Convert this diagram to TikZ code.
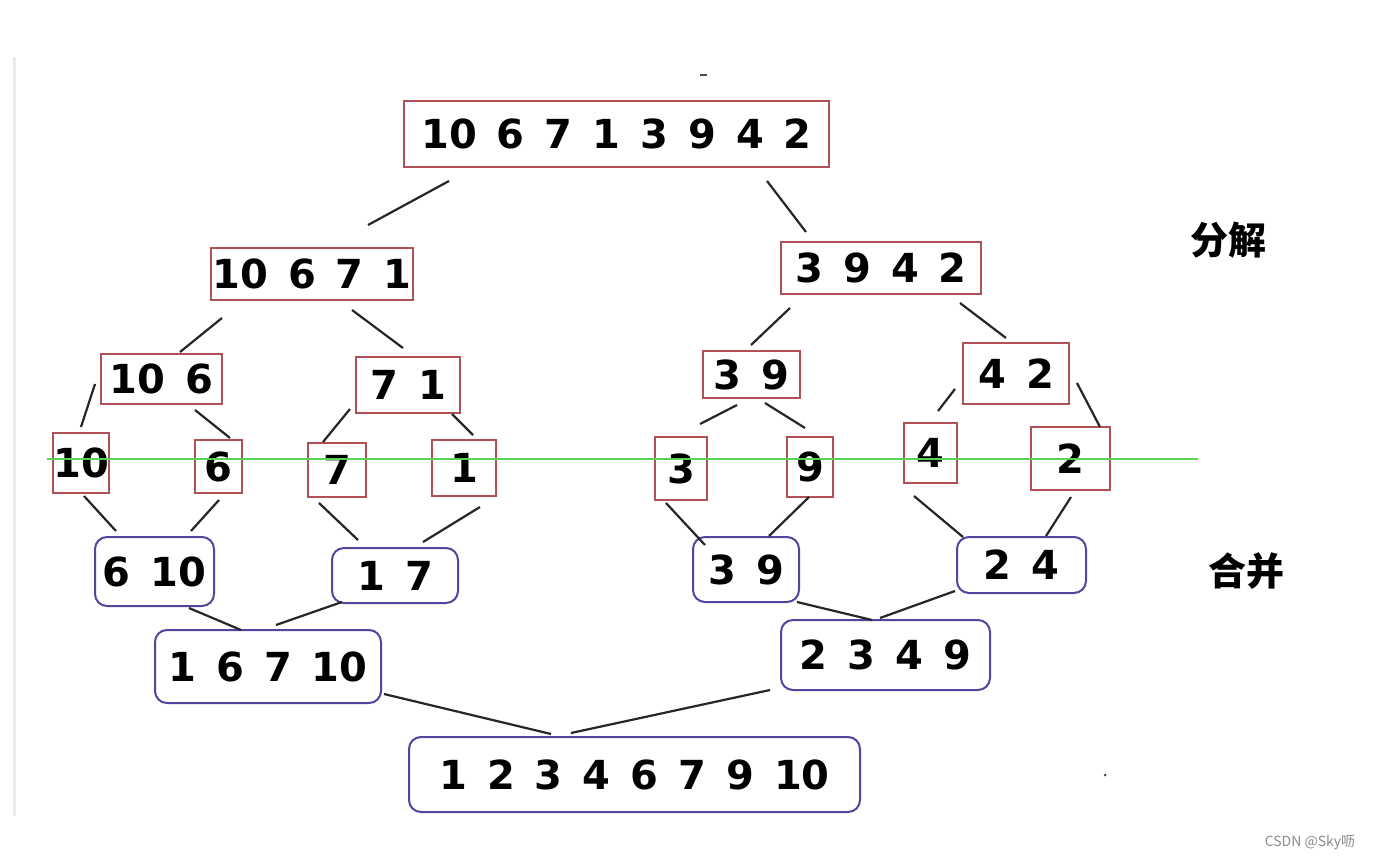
\documentclass[tikz,border=0pt]{standalone}
\usepackage{fontspec}
\setmainfont{DejaVu Sans}
\newfontfamily\cjk{Noto Sans CJK SC}
\definecolor{boxred}{RGB}{178,80,88}
\definecolor{boxblue}{RGB}{80,70,160}
\definecolor{gline}{RGB}{90,210,90}
\newcommand\gp{\hspace{20pt}}
\begin{document}
\begin{tikzpicture}[x=1pt,y=-1pt,
  lbl/.style={font=\fontsize{40}{48}\selectfont\bfseries, inner sep=0pt, text=black},
  rbox/.style={lbl, draw=boxred, line width=2pt},
  bbox/.style={lbl, draw=boxblue, line width=2pt, rounded corners=12pt},
  conn/.style={line width=2.2pt, black!85}]
\useasboundingbox (0,0) rectangle (1374,859);
\fill[white] (0,0) rectangle (1374,859);
\draw[black!8, line width=3pt] (14,57) -- (14,816);
\draw[black!70, line width=1.5pt] (700,75) -- (707,75);
\fill[black!70] (1105,775) circle (1.5pt);

% decomposition boxes
\node[rbox, minimum width=425pt, minimum height=66pt] (top) at (616.5,134) {10\gp 6\gp 7\gp 1\gp 3\gp 9\gp 4\gp 2};
\node[rbox, minimum width=202pt, minimum height=52pt] (la) at (312,274) {10\gp 6\gp 7\gp 1};
\node[rbox, minimum width=200pt, minimum height=52pt] (lb) at (881,268) {3\gp 9\gp 4\gp 2};
\node[rbox, minimum width=121pt, minimum height=50pt] (ka) at (161.5,379) {10\gp 6};
\node[rbox, minimum width=104pt, minimum height=56pt] (kb) at (408,385) {7\gp 1};
\node[rbox, minimum width=97pt, minimum height=47pt] (kc) at (751.5,374.5) {3\gp 9};
\node[rbox, minimum width=106pt, minimum height=61pt] (kd) at (1016,373.5) {4\gp 2};
\node[rbox, minimum width=54pt, minimum height=60pt] (s1) at (81,463) {10};
\node[rbox, minimum width=47pt, minimum height=53pt] (s2) at (218.5,466.5) {6};
\node[rbox, minimum width=58pt, minimum height=54pt] (s3) at (337,470) {7};
\node[rbox, minimum width=64pt, minimum height=56pt] (s4) at (464,468) {1};
\node[rbox, minimum width=52pt, minimum height=63pt] (s5) at (681,468.5) {3};
\node[rbox, minimum width=46pt, minimum height=60pt] (s6) at (810,467) {9};
\node[rbox, minimum width=53pt, minimum height=60pt] (s7) at (930.5,453) {4};
\node[rbox, minimum width=79pt, minimum height=63pt] (s8) at (1070.5,458.5) {2};

% green line
\coordinate (g1) at (47,459);
\coordinate (g2) at (1198,459);
\draw[gline, line width=1.8pt] (g1) -- (g2);

% merge boxes
\node[bbox, minimum width=119pt, minimum height=69pt] (m1) at (154.5,571.5) {6\gp 10};
\node[bbox, minimum width=126pt, minimum height=55pt] (m2) at (395,575.5) {1\gp 7};
\node[bbox, minimum width=106pt, minimum height=65pt] (m3) at (746,569.5) {3\gp 9};
\node[bbox, minimum width=129pt, minimum height=56pt] (m4) at (1021.5,565) {2\gp 4};
\node[bbox, minimum width=226pt, minimum height=73pt] (m5) at (268,666.5) {1\gp 6\gp 7\gp 10};
\node[bbox, minimum width=209pt, minimum height=70pt] (m6) at (885.5,655) {2\gp 3\gp 4\gp 9};
\node[bbox, minimum width=451pt, minimum height=75pt] (m7) at (634.5,774.5) {1\gp 2\gp 3\gp 4\gp 6\gp 7\gp 9\gp 10};

% labels
\node[font=\cjk\bfseries\fontsize{38}{44}\selectfont, inner sep=0pt] (fj) at (1228,240) {分解};
\node[font=\cjk\bfseries\fontsize{38}{44}\selectfont, inner sep=0pt] (hb) at (1246,571) {合并};
\node[font=\cjk\fontsize{14}{16}\selectfont, text=black!45, inner sep=0pt] (wm) at (1310,843) {CSDN @Sky呖};

% connector end points
\coordinate (a1) at (449,181); \coordinate (a2) at (368,225);
\coordinate (b1) at (767,181); \coordinate (b2) at (806,232);
\coordinate (c1) at (222,318); \coordinate (c2) at (180,352);
\coordinate (d1) at (352,310); \coordinate (d2) at (403,348);
\coordinate (e1) at (790,308); \coordinate (e2) at (751,345);
\coordinate (f1) at (960,303); \coordinate (f2) at (1006,338);
\coordinate (h1) at (95,384);  \coordinate (h2) at (81,427);
\coordinate (i1) at (195,410); \coordinate (i2) at (230,438);
\coordinate (j1) at (350,409); \coordinate (j2) at (323,442);
\coordinate (k1) at (452,414); \coordinate (k2) at (473,435);
\coordinate (l1) at (737,405); \coordinate (l2) at (700,424);
\coordinate (n1) at (765,403); \coordinate (n2) at (805,428);
\coordinate (o1) at (955,389); \coordinate (o2) at (938,411);
\coordinate (p1) at (1077,383); \coordinate (p2) at (1100,427);
\coordinate (q1) at (84,496);  \coordinate (q2) at (116,531);
\coordinate (r1) at (219,500); \coordinate (r2) at (191,531);
\coordinate (t1) at (319,503); \coordinate (t2) at (358,540);
\coordinate (u1) at (480,507); \coordinate (u2) at (423,542);
\coordinate (v1) at (666,503); \coordinate (v2) at (705,545);
\coordinate (w1) at (809,497); \coordinate (w2) at (769,536);
\coordinate (x1) at (914,496); \coordinate (x2) at (963,537);
\coordinate (y1) at (1071,497); \coordinate (y2) at (1046,536);
\coordinate (z1) at (189,608); \coordinate (z2) at (241,630);
\coordinate (aa1) at (342,602); \coordinate (aa2) at (276,625);
\coordinate (bb1) at (797,602); \coordinate (bb2) at (872,620);
\coordinate (cc1) at (955,591); \coordinate (cc2) at (880,618);
\coordinate (dd1) at (384,694); \coordinate (dd2) at (551,734);
\coordinate (ee1) at (770,690); \coordinate (ee2) at (571,733);

\foreach \p in {a,b,c,d,e,f,h,i,j,k,l,n,o,p,q,r,t,u,v,w,x,y,z,aa,bb,cc,dd,ee}
  \draw[conn] (\p1) -- (\p2);
\end{tikzpicture}
\end{document}
